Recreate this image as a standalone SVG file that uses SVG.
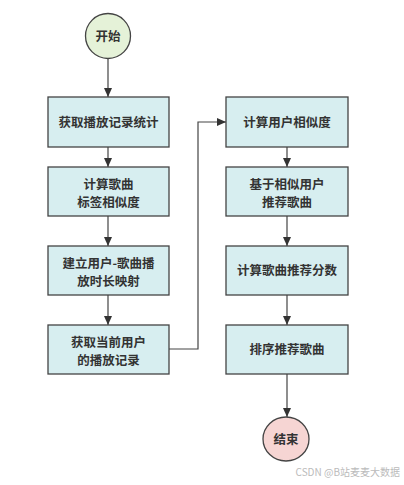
<svg xmlns="http://www.w3.org/2000/svg" width="404" height="485" viewBox="0 0 404 485">
<defs>
<marker id="arr" markerWidth="10" markerHeight="8" refX="9" refY="4" orient="auto" markerUnits="userSpaceOnUse">
<path d="M0,0 L9,4 L0,8 Z" fill="#333"/>
</marker>
<style>
.box{fill:#d7eef0;stroke:#444;stroke-width:1.3}
.start{fill:#e5f2d8;stroke:#444;stroke-width:1.3}
.end{fill:#f6d5d3;stroke:#444;stroke-width:1.3}
.t{font-family:"Noto Sans CJK SC","Noto Sans",sans-serif;font-size:12.5px;font-weight:bold;fill:#333;text-anchor:middle}
.c{fill:none;stroke:#444;stroke-width:1.2;marker-end:url(#arr)}
.wm{font-family:"Noto Sans CJK SC","Liberation Sans",sans-serif;font-size:10px;fill:#bbb}
</style>
</defs>
<rect width="404" height="485" fill="#fff"/>
<g id="connectors">
<line class="c" x1="108" y1="59" x2="108" y2="97"/>
<line class="c" x1="108" y1="147" x2="108" y2="167"/>
<line class="c" x1="108" y1="216" x2="108" y2="246"/>
<line class="c" x1="108" y1="295" x2="108" y2="325"/>
<polyline class="c" points="169,349 198,349 198,122 226,122"/>
<line class="c" x1="287" y1="147" x2="287" y2="167"/>
<line class="c" x1="287" y1="216" x2="287" y2="246"/>
<line class="c" x1="287" y1="295" x2="287" y2="325"/>
<line class="c" x1="287" y1="374" x2="287" y2="417"/>
</g>
<g id="start"><ellipse class="start" cx="108" cy="36" rx="22.5" ry="22.5"/><text class="t" x="108" y="41">开始</text></g>
<g id="n1"><rect class="box" x="48" y="97" width="121" height="50"/><text class="t" x="108.5" y="127">获取播放记录统计</text></g>
<g id="n2"><rect class="box" x="48" y="167" width="121" height="49"/><text class="t" x="108.5" y="188.5">计算歌曲</text><text class="t" x="108.5" y="206.5">标签相似度</text></g>
<g id="n3"><rect class="box" x="48" y="246" width="121" height="49"/><text class="t" x="108.5" y="267.5">建立用户-歌曲播</text><text class="t" x="108.5" y="285.5">放时长映射</text></g>
<g id="n4"><rect class="box" x="48" y="325" width="121" height="49"/><text class="t" x="108.5" y="346.5">获取当前用户</text><text class="t" x="108.5" y="364.5">的播放记录</text></g>
<g id="n5"><rect class="box" x="226" y="97" width="122" height="50"/><text class="t" x="287" y="127">计算用户相似度</text></g>
<g id="n6"><rect class="box" x="226" y="167" width="122" height="49"/><text class="t" x="287" y="188.5">基于相似用户</text><text class="t" x="287" y="206.5">推荐歌曲</text></g>
<g id="n7"><rect class="box" x="226" y="246" width="122" height="49"/><text class="t" x="287" y="275">计算歌曲推荐分数</text></g>
<g id="n8"><rect class="box" x="226" y="325" width="122" height="49"/><text class="t" x="287" y="354">排序推荐歌曲</text></g>
<g id="end"><ellipse class="end" cx="286" cy="439" rx="23" ry="22"/><text class="t" x="286" y="444">结束</text></g>
<text class="wm" x="400" y="476" text-anchor="end">CSDN @B站麦麦大数据</text>
</svg>
